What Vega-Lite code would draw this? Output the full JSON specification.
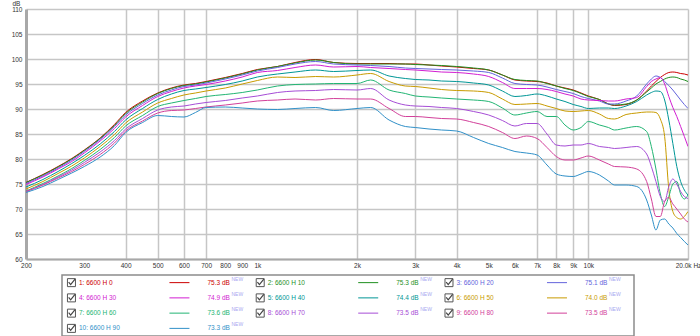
{
  "$schema": "https://vega.github.io/schema/vega-lite/v6.json",
  "background": "white",
  "padding": {"left": 11, "top": 0, "right": 0, "bottom": 0},
  "config": {"view": {"stroke": null}, "font": "Liberation Sans"},
  "spacing": 5,
  "datasets": {
    "curves": [
      {"f":200,"h0":75.3,"h10":75.3,"h20":75.1,"h30":74.9,"h40":74.4,"h50":74.0,"h60":73.6,"h70":73.5,"h80":73.5,"h90":73.3},
      {"f":225,"h0":76.9,"h10":76.8,"h20":76.6,"h30":76.4,"h40":75.9,"h50":75.5,"h60":75.1,"h70":74.9,"h80":74.8,"h90":74.5},
      {"f":250,"h0":78.5,"h10":78.4,"h20":78.2,"h30":78.0,"h40":77.5,"h50":77.1,"h60":76.6,"h70":76.4,"h80":76.2,"h90":75.9},
      {"f":275,"h0":80.1,"h10":80.0,"h20":79.8,"h30":79.5,"h40":79.1,"h50":78.6,"h60":78.1,"h70":77.8,"h80":77.5,"h90":77.2},
      {"f":300,"h0":81.8,"h10":81.7,"h20":81.5,"h30":81.2,"h40":80.7,"h50":80.2,"h60":79.7,"h70":79.3,"h80":78.9,"h90":78.5},
      {"f":335,"h0":84.2,"h10":84.1,"h20":83.9,"h30":83.6,"h40":83.0,"h50":82.5,"h60":81.9,"h70":81.4,"h80":80.9,"h90":80.4},
      {"f":370,"h0":86.9,"h10":86.7,"h20":86.5,"h30":86.1,"h40":85.5,"h50":84.9,"h60":84.3,"h70":83.7,"h80":83.2,"h90":82.7},
      {"f":400,"h0":89.3,"h10":89.1,"h20":88.8,"h30":88.4,"h40":87.8,"h50":87.2,"h60":86.6,"h70":86.0,"h80":85.6,"h90":85.3},
      {"f":450,"h0":91.6,"h10":91.4,"h20":91.1,"h30":90.7,"h40":90.1,"h50":89.4,"h60":88.7,"h70":88.1,"h80":87.6,"h90":87.3},
      {"f":500,"h0":93.2,"h10":93.1,"h20":92.8,"h30":92.5,"h40":91.9,"h50":91.2,"h60":90.5,"h70":89.8,"h80":89.2,"h90":88.7},
      {"f":550,"h0":94.2,"h10":94.1,"h20":93.8,"h30":93.5,"h40":93.0,"h50":92.1,"h60":91.2,"h70":90.4,"h80":89.7,"h90":88.5},
      {"f":600,"h0":94.8,"h10":94.7,"h20":94.5,"h30":94.2,"h40":93.7,"h50":92.8,"h60":91.7,"h70":90.6,"h80":89.8,"h90":88.4},
      {"f":650,"h0":95.1,"h10":95.0,"h20":94.8,"h30":94.6,"h40":94.0,"h50":93.2,"h60":92.1,"h70":91.0,"h80":90.1,"h90":89.3},
      {"f":700,"h0":95.5,"h10":95.4,"h20":95.2,"h30":94.9,"h40":94.3,"h50":93.6,"h60":92.5,"h70":91.3,"h80":90.4,"h90":90.3},
      {"f":800,"h0":96.3,"h10":96.2,"h20":96.0,"h30":95.6,"h40":94.9,"h50":94.2,"h60":92.9,"h70":91.7,"h80":90.8,"h90":90.4},
      {"f":900,"h0":97.1,"h10":97.0,"h20":96.8,"h30":96.4,"h40":95.6,"h50":95.0,"h60":93.3,"h70":92.2,"h80":91.2,"h90":90.2},
      {"f":1000,"h0":97.9,"h10":97.8,"h20":97.6,"h30":97.3,"h40":96.4,"h50":95.7,"h60":93.8,"h70":92.6,"h80":91.6,"h90":90.0},
      {"f":1150,"h0":98.5,"h10":98.5,"h20":98.3,"h30":97.7,"h40":97.0,"h50":96.4,"h60":94.6,"h70":93.3,"h80":91.8,"h90":89.9},
      {"f":1300,"h0":99.3,"h10":99.2,"h20":99.0,"h30":98.3,"h40":97.4,"h50":96.3,"h60":94.9,"h70":93.6,"h80":92.0,"h90":90.1},
      {"f":1500,"h0":99.9,"h10":99.8,"h20":99.5,"h30":98.8,"h40":97.8,"h50":96.5,"h60":95.0,"h70":93.7,"h80":91.8,"h90":90.3},
      {"f":1700,"h0":99.3,"h10":99.3,"h20":99.0,"h30":98.4,"h40":97.5,"h50":96.4,"h60":95.1,"h70":93.9,"h80":92.1,"h90":89.7},
      {"f":2000,"h0":99.1,"h10":99.0,"h20":98.8,"h30":98.5,"h40":97.7,"h50":96.8,"h60":95.1,"h70":93.8,"h80":92.0,"h90":90.1},
      {"f":2200,"h0":99.1,"h10":99.0,"h20":98.7,"h30":98.3,"h40":97.8,"h50":97.1,"h60":95.8,"h70":94.1,"h80":92.0,"h90":90.3},
      {"f":2500,"h0":99.1,"h10":99.0,"h20":98.5,"h30":98.1,"h40":96.6,"h50":95.5,"h60":93.8,"h70":91.8,"h80":90.1,"h90":87.8},
      {"f":2800,"h0":99.0,"h10":99.0,"h20":98.2,"h30":97.9,"h40":96.1,"h50":94.6,"h60":93.1,"h70":90.8,"h80":88.5,"h90":86.5},
      {"f":3000,"h0":99.0,"h10":98.9,"h20":98.1,"h30":97.8,"h40":95.9,"h50":94.5,"h60":92.6,"h70":90.6,"h80":88.5,"h90":86.3},
      {"f":3300,"h0":98.8,"h10":98.8,"h20":98.0,"h30":97.6,"h40":95.8,"h50":94.2,"h60":92.4,"h70":90.5,"h80":88.3,"h90":86.0},
      {"f":3600,"h0":98.6,"h10":98.7,"h20":97.9,"h30":97.4,"h40":95.6,"h50":93.9,"h60":92.2,"h70":90.3,"h80":88.1,"h90":85.8},
      {"f":4000,"h0":98.4,"h10":98.5,"h20":97.8,"h30":97.3,"h40":95.5,"h50":93.7,"h60":92.0,"h70":90.1,"h80":88.0,"h90":85.6},
      {"f":4500,"h0":98.1,"h10":98.2,"h20":97.6,"h30":97.0,"h40":95.2,"h50":93.6,"h60":91.8,"h70":89.5,"h80":87.3,"h90":84.3},
      {"f":5000,"h0":97.8,"h10":97.8,"h20":97.3,"h30":96.5,"h40":94.8,"h50":93.3,"h60":91.5,"h70":88.8,"h80":86.5,"h90":83.1},
      {"f":5500,"h0":96.8,"h10":96.8,"h20":96.2,"h30":95.3,"h40":93.6,"h50":92.0,"h60":90.2,"h70":87.7,"h80":85.3,"h90":82.3},
      {"f":6000,"h0":95.8,"h10":95.9,"h20":95.1,"h30":94.1,"h40":92.5,"h50":90.9,"h60":88.8,"h70":86.6,"h80":84.1,"h90":81.5},
      {"f":6500,"h0":95.6,"h10":95.7,"h20":94.9,"h30":94.1,"h40":92.7,"h50":91.0,"h60":89.2,"h70":87.1,"h80":84.6,"h90":81.2},
      {"f":7000,"h0":95.5,"h10":95.6,"h20":94.8,"h30":94.1,"h40":93.0,"h50":91.1,"h60":89.5,"h70":87.1,"h80":84.1,"h90":80.8},
      {"f":7500,"h0":95.2,"h10":95.1,"h20":94.4,"h30":93.9,"h40":92.6,"h50":90.6,"h60":88.5,"h70":85.0,"h80":82.3,"h90":78.8},
      {"f":8000,"h0":94.6,"h10":94.6,"h20":93.9,"h30":93.5,"h40":92.0,"h50":90.1,"h60":88.5,"h70":82.8,"h80":80.5,"h90":77.0},
      {"f":8500,"h0":94.2,"h10":94.1,"h20":93.5,"h30":93.0,"h40":91.5,"h50":89.6,"h60":86.8,"h70":82.6,"h80":79.8,"h90":76.6},
      {"f":9000,"h0":93.8,"h10":93.7,"h20":93.1,"h30":92.6,"h40":90.9,"h50":89.5,"h60":85.8,"h70":82.8,"h80":79.8,"h90":76.5},
      {"f":9500,"h0":93.2,"h10":93.1,"h20":92.5,"h30":92.0,"h40":90.5,"h50":89.6,"h60":86.3,"h70":82.8,"h80":80.2,"h90":77.0},
      {"f":10000,"h0":92.6,"h10":92.5,"h20":92.1,"h30":91.8,"h40":90.1,"h50":89.7,"h60":87.5,"h70":83.1,"h80":80.6,"h90":77.5},
      {"f":10800,"h0":91.9,"h10":91.9,"h20":91.6,"h30":91.7,"h40":90.2,"h50":89.0,"h60":86.8,"h70":82.5,"h80":79.8,"h90":76.8},
      {"f":11500,"h0":91.0,"h10":91.0,"h20":91.0,"h30":91.6,"h40":90.2,"h50":88.1,"h60":86.3,"h70":82.3,"h80":79.0,"h90":75.6},
      {"f":12000,"h0":90.7,"h10":90.8,"h20":91.0,"h30":91.6,"h40":90.1,"h50":88.0,"h60":85.8,"h70":82.1,"h80":78.5,"h90":74.8},
      {"f":13000,"h0":90.9,"h10":91.0,"h20":91.6,"h30":92.0,"h40":90.6,"h50":88.9,"h60":86.2,"h70":82.3,"h80":78.4,"h90":74.8},
      {"f":14000,"h0":91.8,"h10":91.8,"h20":92.6,"h30":92.3,"h40":91.5,"h50":89.2,"h60":86.5,"h70":82.5,"h80":78.0,"h90":74.5},
      {"f":15000,"h0":93.6,"h10":93.4,"h20":95.0,"h30":94.5,"h40":92.8,"h50":89.4,"h60":85.5,"h70":81.0,"h80":75.5,"h90":71.8},
      {"f":15500,"h0":94.6,"h10":94.2,"h20":96.0,"h30":95.5,"h40":93.3,"h50":89.4,"h60":82.5,"h70":78.5,"h80":72.0,"h90":68.8},
      {"f":16000,"h0":95.5,"h10":95.0,"h20":96.6,"h30":96.0,"h40":93.6,"h50":89.3,"h60":78.0,"h70":75.5,"h80":68.5,"h90":65.8},
      {"f":16500,"h0":96.3,"h10":95.5,"h20":96.3,"h30":96.3,"h40":93.5,"h50":88.0,"h60":73.0,"h70":72.5,"h80":68.5,"h90":67.8},
      {"f":17000,"h0":96.9,"h10":96.0,"h20":95.5,"h30":95.0,"h40":91.8,"h50":84.5,"h60":70.5,"h70":71.5,"h80":71.5,"h90":68.0},
      {"f":17500,"h0":97.3,"h10":96.3,"h20":94.7,"h30":92.5,"h40":87.8,"h50":74.0,"h60":72.5,"h70":74.5,"h80":72.3,"h90":67.0},
      {"f":18000,"h0":97.4,"h10":96.4,"h20":93.8,"h30":90.3,"h40":83.1,"h50":69.5,"h60":75.0,"h70":76.0,"h80":71.0,"h90":66.2},
      {"f":18500,"h0":97.3,"h10":96.3,"h20":92.8,"h30":88.5,"h40":78.5,"h50":68.3,"h60":75.5,"h70":75.0,"h80":70.0,"h90":65.1},
      {"f":19000,"h0":97.1,"h10":96.0,"h20":91.8,"h30":86.5,"h40":75.5,"h50":68.0,"h60":73.0,"h70":73.5,"h80":69.0,"h90":64.3},
      {"f":19500,"h0":97.0,"h10":95.8,"h20":90.9,"h30":84.5,"h40":73.8,"h50":68.5,"h60":72.0,"h70":72.5,"h80":68.0,"h90":63.5},
      {"f":20000,"h0":96.8,"h10":95.5,"h20":90.1,"h30":82.5,"h40":72.8,"h50":69.5,"h60":72.8,"h70":72.1,"h80":67.4,"h90":62.8}
    ],
    "legend": [
      {"col":0,"row":0,"series":"h0","name":"1: 6600 H 0","value":"75.3 dB"},
      {"col":1,"row":0,"series":"h10","name":"2: 6600 H 10","value":"75.3 dB"},
      {"col":2,"row":0,"series":"h20","name":"3: 6600 H 20","value":"75.1 dB"},
      {"col":0,"row":1,"series":"h30","name":"4: 6600 H 30","value":"74.9 dB"},
      {"col":1,"row":1,"series":"h40","name":"5: 6600 H 40","value":"74.4 dB"},
      {"col":2,"row":1,"series":"h50","name":"6: 6600 H 50","value":"74.0 dB"},
      {"col":0,"row":2,"series":"h60","name":"7: 6600 H 60","value":"73.6 dB"},
      {"col":1,"row":2,"series":"h70","name":"8: 6600 H 70","value":"73.5 dB"},
      {"col":2,"row":2,"series":"h80","name":"9: 6600 H 80","value":"73.5 dB"},
      {"col":0,"row":3,"series":"h90","name":"10: 6600 H 90","value":"73.3 dB"}
    ],
    "spacer": [{"k": 0}]
  },
  "vconcat": [
    {
      "width": 662,
      "height": 250,
      "data": {"name": "curves"},
      "transform": [{"fold": ["h0","h10","h20","h30","h40","h50","h60","h70","h80","h90"], "as": ["series","db"]}],
      "mark": {"type": "line", "strokeWidth": 1, "clip": true, "interpolate": "monotone"},
      "encoding": {
        "x": {
          "field": "f", "type": "quantitative",
          "scale": {"type": "log", "domain": [200, 20000], "nice": false},
          "axis": {
            "title": null,
            "values": [200,300,400,500,600,700,800,900,1000,2000,3000,4000,5000,6000,7000,8000,9000,10000,20000],
            "labelExpr": "datum.value >= 20000 ? '20.0k Hz' : (datum.value >= 1000 ? (datum.value/1000) + 'k' : '' + datum.value)",
            "ticks": false, "labelPadding": 3, "labelFontSize": 6.5, "labelColor": "#333333",
            "labelFlush": false, "labelOverlap": false, "labelBound": false,
            "grid": true, "gridColor": "#c6c6c6", "gridWidth": 1.5,
            "gridOpacity": {"condition": {"test": "indexof([200,300,800,900,1000,5000,6000], datum.value) >= 0", "value": 0}, "value": 1},
            "domainColor": "#a8a8a8", "domainWidth": 2
          }
        },
        "y": {
          "field": "db", "type": "quantitative",
          "scale": {"domain": [60, 110], "nice": false, "zero": false},
          "axis": {
            "title": "dB", "titleAngle": 0, "titleFontSize": 6.5, "titleFontWeight": "normal", "titleColor": "#333333",
            "titleX": -14, "titleY": -3, "titleAlign": "left", "titleBaseline": "bottom",
            "values": [60,65,70,75,80,85,90,95,100,105,110],
            "ticks": false, "labelPadding": 4, "labelFontSize": 6.5, "labelColor": "#333333",
            "grid": true, "gridColor": "#c6c6c6", "gridWidth": 1.5,
            "domainColor": "#a8a8a8", "domainWidth": 3
          }
        },
        "color": {
          "field": "series", "type": "nominal",
          "scale": {
            "domain": ["h0","h10","h20","h30","h40","h50","h60","h70","h80","h90"],
            "range": ["#cc0000","#1f8f1f","#6464dc","#d21ed2","#009696","#c89b00","#22b573","#a64dd6","#d2409a","#3090c8"]
          },
          "legend": null
        }
      }
    },
    {
      "spacing": 0,
      "hconcat": [
        {
          "width": 35,
          "height": 61,
          "data": {"name": "spacer"},
          "mark": {"type": "point", "opacity": 0},
          "encoding": {}
        },
        {
          "width": 572,
          "height": 61,
          "view": {"stroke": "#8c8c8c", "strokeWidth": 1.5},
          "data": {"name": "legend"},
          "encoding": {
            "x": {"field": "col", "type": "quantitative", "scale": {"domain": [-0.05, 2.98], "nice": false, "zero": false}, "axis": null},
            "y": {"field": "row", "type": "ordinal", "scale": {"type": "point", "padding": 0.5}, "axis": null}
          },
          "layer": [
            {"mark": {"type": "point", "shape": "square", "filled": false, "size": 64, "stroke": "#555555", "strokeWidth": 1, "opacity": 1}},
            {"mark": {"type": "point", "shape": "M-0.7,-0.1L-0.2,0.5L0.9,-0.9", "filled": false, "size": 64, "stroke": "#444444", "strokeWidth": 1.2, "opacity": 1}},
            {
              "mark": {"type": "text", "align": "left", "baseline": "middle", "dx": 7.5, "fontSize": 6.5},
              "encoding": {
                "text": {"field": "name"},
                "color": {"field": "series", "type": "nominal", "scale": {"domain": ["h0","h10","h20","h30","h40","h50","h60","h70","h80","h90"], "range": ["#cc0000","#1f8f1f","#6464dc","#d21ed2","#009696","#c89b00","#22b573","#a64dd6","#d2409a","#3090c8"]}, "legend": null}
              }
            },
            {
              "mark": {"type": "rule", "xOffset": 98, "x2Offset": 118, "strokeWidth": 1},
              "encoding": {
                "x2": {"field": "col"},
                "color": {"field": "series", "type": "nominal", "legend": null}
              }
            },
            {
              "mark": {"type": "text", "align": "left", "baseline": "middle", "dx": 136, "fontSize": 6.5},
              "encoding": {
                "text": {"field": "value"},
                "color": {"field": "series", "type": "nominal", "legend": null}
              }
            },
            {"mark": {"type": "text", "align": "left", "baseline": "middle", "dx": 160, "dy": -4, "fontSize": 5, "color": "#a8a8f0", "text": "NEW"}}
          ]
        }
      ]
    }
  ]
}
